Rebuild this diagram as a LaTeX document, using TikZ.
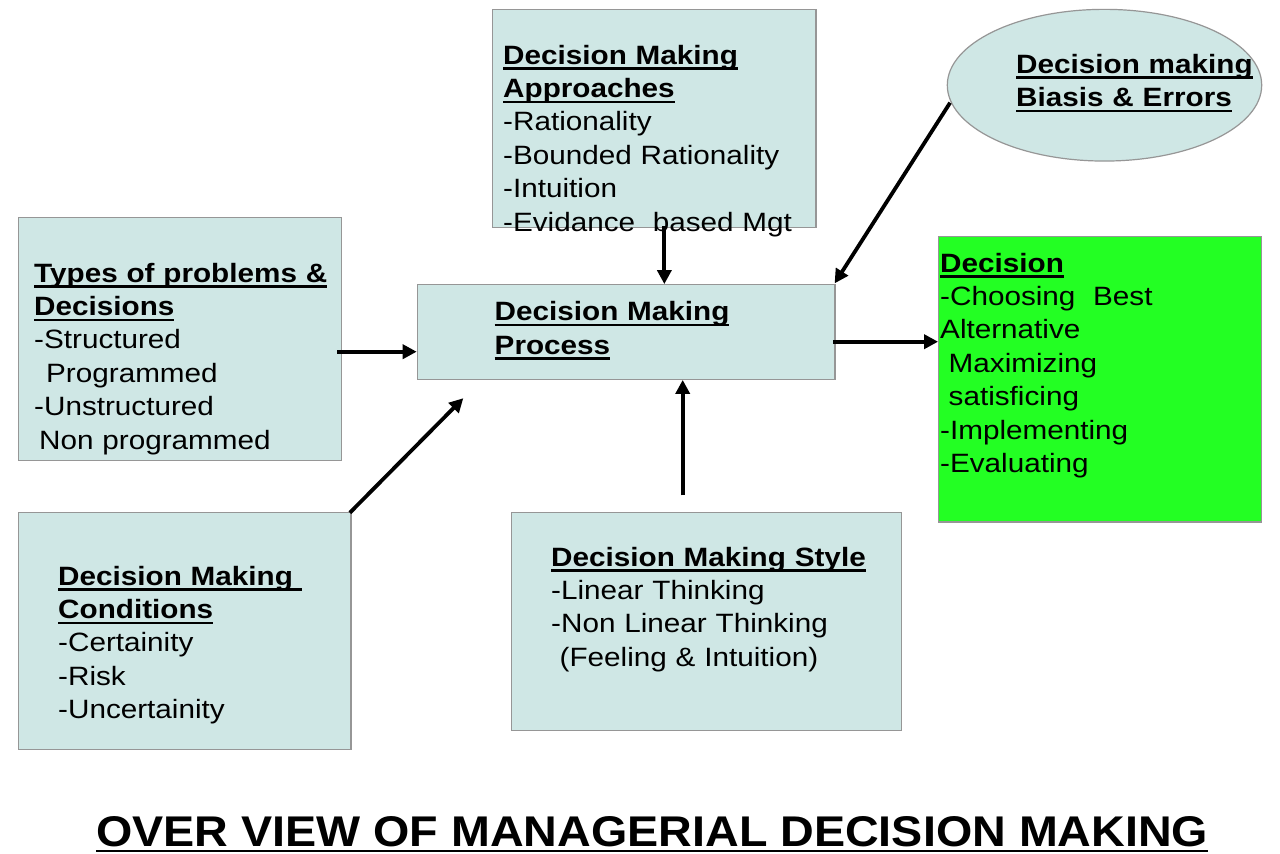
\documentclass[tikz,border=0pt]{standalone}
\usepackage{fontspec}
\usepackage{graphicx}
\setmainfont{Liberation Sans}[FakeStretch=1.12]
\usetikzlibrary{arrows.meta,shapes.geometric,calc}
\definecolor{boxfill}{RGB}{207,231,229}
\definecolor{boxline}{RGB}{150,150,150}
\definecolor{decgreen}{RGB}{35,255,35}
\newcommand\uln[1]{\setbox0=\hbox{#1}\rlap{\rule[-5.5pt]{\wd0}{2.2pt}}\box0}
\begin{document}
\begin{tikzpicture}[x=1pt,y=-1pt,
  box/.style={draw=boxline, line width=1.2pt, fill=boxfill, rectangle, inner sep=0pt},
  txt/.style={anchor=base west, inner sep=0pt, align=left, text width=420pt,
              font=\fontsize{26.5}{33.4}\selectfont},
  arr/.style={-{Triangle[length=14pt,width=14pt]}, line width=3.8pt, black}]
\useasboundingbox (0,0) rectangle (1280,854);
\fill[white] (0,0) rectangle (1280,854);

% boxes
\node[box, minimum width=323.3pt, minimum height=218.4pt] (appr) at (654.35,118.5) {};
\node[box, ellipse, minimum width=314.4pt, minimum height=151.7pt] (ell) at (1104.5,85.2) {};
\node[box, minimum width=323.4pt, minimum height=243.4pt] (types) at (180,339) {};
\node[box, minimum width=417.7pt, minimum height=94.6pt] (proc) at (626.15,332) {};
\node[box, fill=decgreen, minimum width=323pt, minimum height=285.3pt] (dec) at (1100.2,379.35) {};
\node[box, minimum width=332.7pt, minimum height=237pt] (cond) at (184.65,630.8) {};
\node[box, minimum width=390pt, minimum height=218pt] (style) at (706.7,621.7) {};

% texts
\node[txt] (apprt) at (503,64) {\textbf{\uln{Decision Making}}\\\textbf{\uln{Approaches}}\\-Rationality\\-Bounded Rationality\\-Intuition\\-Evidance\ \ based Mgt};
\node[txt] (ellt) at (1016,73) {\textbf{\uln{Decision making}}\\\textbf{\uln{Biasis \& Errors}}};
\node[txt] (typest) at (34,282) {\textbf{\uln{Types of problems \&}}\\\textbf{\uln{Decisions}}\\-Structured\\\hspace*{12pt}Programmed\\-Unstructured\\\hspace*{5pt}Non programmed};
\node[txt] (proct) at (494.5,320.7) {\textbf{\uln{Decision Making}}\\\textbf{\uln{Process}}};
\node[txt] (dect) at (940,272) {\textbf{\uln{Decision}}\\-Choosing\ \ Best\\Alternative\\\hspace*{8.5pt}Maximizing\\\hspace*{8.5pt}satisficing\\-Implementing\\-Evaluating};
\node[txt] (condt) at (58,585) {\textbf{\uln{Decision Making\ }}\\\textbf{\uln{Conditions}}\\-Certainity\\-Risk\\-Uncertainity};
\node[txt] (stylet) at (551,566) {\textbf{\uln{Decision Making Style}}\\-Linear Thinking\\-Non Linear Thinking\\\hspace*{8.5pt}(Feeling \& Intuition)};

% title
\node[anchor=base, inner sep=0pt] (title) at (652.2,846) {\resizebox{1112pt}{30pt}{\fontsize{40}{44}\selectfont\bfseries\uln{OVER VIEW OF MANAGERIAL DECISION MAKING}}};

% connectors
\draw[arr] ($(appr.south)+(10,-2.7)$) coordinate (a1) -- (a1 |- proc.north);
\draw[arr] ($(ell.west)+(3.4,17.5)$) -- ($(proc.north east)+(-1,-0.7)$);
\draw[arr] ($(types.east)+(-5,12.7)$) coordinate (a3) -- (a3 -| proc.west);
\draw[arr] ($(cond.north east)+(-1.7,1)$) -- ($(proc.south west)+(46.6,18.3)$);
\draw[arr] ($(style.north)+(-24,-16.7)$) coordinate (a5) -- (a5 |- proc.south);
\draw[arr] ($(proc.east)+(-2.3,9.7)$) coordinate (a6) -- (a6 -| dec.west);
\end{tikzpicture}
\end{document}
